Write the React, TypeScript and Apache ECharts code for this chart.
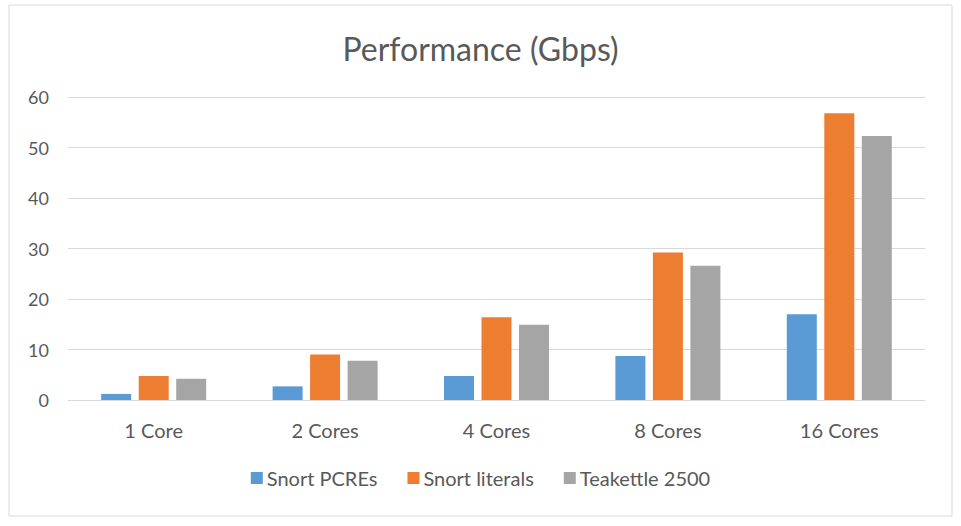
import { useEffect, useRef } from 'react';
import * as echarts from 'echarts';

const categories = ['1 Core', '2 Cores', '4 Cores', '8 Cores', '16 Cores'];
const snortPcres = [1.2, 2.7, 4.75, 8.7, 17.0];
const snortLiterals = [4.75, 9.0, 16.4, 29.2, 56.8];
const teakettle = [4.2, 7.75, 14.9, 26.6, 52.3];
const yTicks = { min: 0, max: 60, interval: 10 };

const FONT = 'Lato';
const TEXT = '#595959';

export default function App() {
  const chartRef = useRef<HTMLDivElement>(null);

  useEffect(() => {
    if (!chartRef.current) return;
    document.body.style.margin = '0';
    const chart = echarts.init(chartRef.current, undefined, { renderer: 'svg' });

    const bar = (name: string, data: number[], color: string) => ({
      name,
      type: 'bar' as const,
      data,
      barWidth: 30,
      barGap: '25%',
      itemStyle: { color },
    });

    chart.setOption({
      animation: false,
      backgroundColor: '#fff',
      textStyle: { fontFamily: FONT, color: TEXT },
      title: {
        text: 'Performance (Gbps)',
        left: 'center',
        top: 27,
        textStyle: { fontFamily: FONT, fontSize: 32, fontWeight: 'normal', color: TEXT },
      },
      graphic: [
        {
          type: 'rect',
          shape: { x: 9, y: 5, width: 943, height: 511 },
          style: { fill: 'none', stroke: '#d9d9d9', lineWidth: 1 },
          silent: true,
        },
      ],
      legend: {
        bottom: 33,
        left: 'center',
        itemWidth: 12,
        itemHeight: 12,
        itemGap: 30,
        icon: 'rect',
        textStyle: { fontFamily: FONT, fontSize: 20, color: TEXT, padding: [0, 0, 0, -1] },
        data: ['Snort PCREs', 'Snort literals', 'Teakettle 2500'],
      },
      grid: { left: 68, right: 36, top: 97, bottom: 126 },
      xAxis: {
        type: 'category',
        data: categories,
        axisLine: { lineStyle: { color: '#d9d9d9' } },
        axisTick: { show: false },
        axisLabel: { fontFamily: FONT, fontSize: 20, color: TEXT, margin: 20 },
      },
      yAxis: {
        type: 'value',
        min: yTicks.min,
        max: yTicks.max,
        interval: yTicks.interval,
        axisLine: { show: false },
        axisTick: { show: false },
        axisLabel: { fontFamily: FONT, fontSize: 18, color: TEXT, margin: 19, align: 'right' },
        splitLine: { lineStyle: { color: '#d9d9d9', width: 1 } },
      },
      series: [
        bar('Snort PCREs', snortPcres, '#5B9BD5'),
        bar('Snort literals', snortLiterals, '#ED7D31'),
        bar('Teakettle 2500', teakettle, '#A5A5A5'),
      ],
    });

    return () => chart.dispose();
  }, []);

  return <div ref={chartRef} style={{ width: 961, height: 526 }} />;
}
